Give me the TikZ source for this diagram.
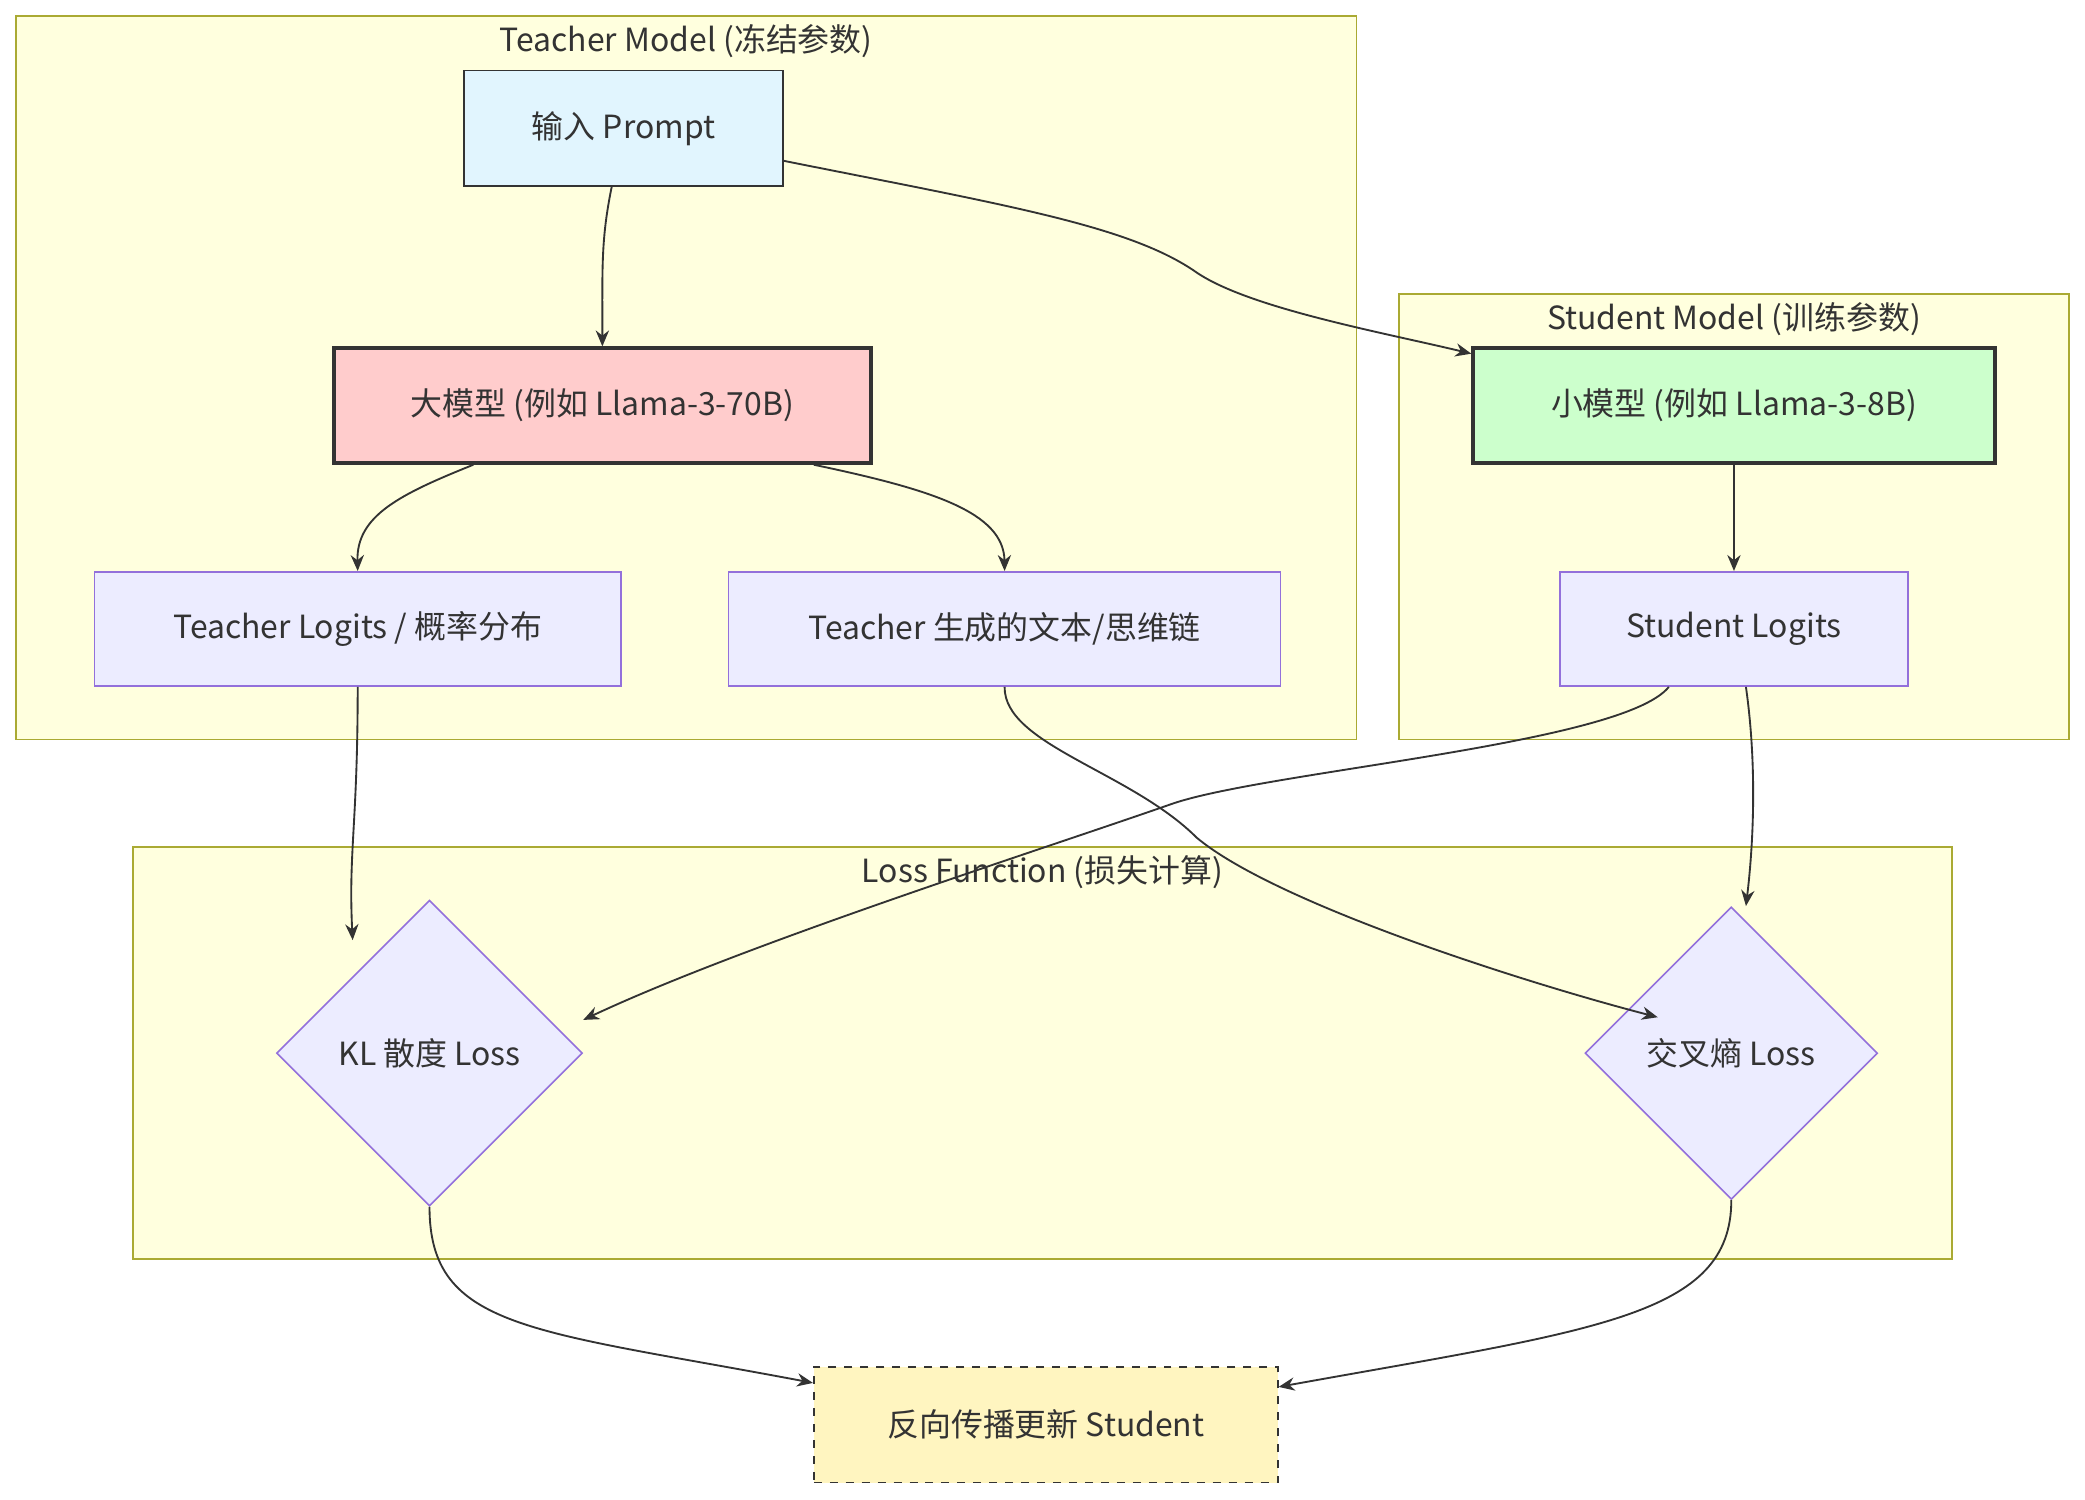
\documentclass[tikz,border=0pt]{standalone}
\usepackage{fontspec}
\setmainfont{Noto Sans CJK SC}
\usetikzlibrary{shapes.geometric,arrows.meta}
\definecolor{clusterfill}{HTML}{FFFFDE}
\definecolor{clusterline}{HTML}{AAAA33}
\definecolor{nodefill}{HTML}{ECECFF}
\definecolor{nodeline}{HTML}{9370DB}
\definecolor{edgecol}{HTML}{333333}
\tikzset{
  cluster/.style={draw=clusterline, fill=clusterfill, line width=0.6pt},
  clusterlabel/.style={font=\fontsize{12}{14}\selectfont, text=edgecol, anchor=center},
  box/.style={draw=nodeline, fill=nodefill, line width=0.6pt, font=\fontsize{12}{14}\selectfont,
    text=edgecol, inner sep=0pt},
  diam/.style={box, diamond, aspect=1, inner sep=0pt},
  flow/.style={draw=edgecol, line width=0.7pt, -{Stealth[length=6pt,width=5pt]}}
}
\begin{document}
\begin{tikzpicture}[x=0.5pt,y=-0.5pt]
  \useasboundingbox (0,0) rectangle (1568,1128);
  % subgraphs
  \draw[cluster] (12,12) rectangle (1020,556);
  \node[clusterlabel] (teachlbl) at (516,31) {Teacher Model (冻结参数)};
  \draw[cluster] (1052,221) rectangle (1556,556);
  \node[clusterlabel] (studlbl) at (1304,240) {Student Model (训练参数)};
  \draw[cluster] (100,637) rectangle (1468,947);
  \node[clusterlabel] (losslbl) at (784,656) {Loss Function (损失计算)};
  % nodes
  \node[box, draw=edgecol, fill={rgb,255:red,225;green,245;blue,254}, minimum width=120pt, minimum height=43.5pt]
    (prompt) at (469,96.5) {输入 Prompt};
  \node[box, draw=edgecol, line width=1.5pt, fill={rgb,255:red,255;green,204;blue,204}, minimum width=202pt, minimum height=43pt]
    (big) at (453,305) {大模型 (例如 Llama-3-70B)};
  \node[box, draw=edgecol, line width=1.5pt, fill={rgb,255:red,204;green,255;blue,204}, minimum width=196pt, minimum height=43pt]
    (small) at (1304,305) {小模型 (例如 Llama-3-8B)};
  \node[box, minimum width=198pt, minimum height=43pt] (tlogits) at (269,473) {Teacher Logits / 概率分布};
  \node[box, minimum width=207.5pt, minimum height=43pt] (ttext) at (755.5,473) {Teacher 生成的文本/思维链};
  \node[box, minimum width=131pt, minimum height=43pt] (slogits) at (1304,473) {Student Logits};
  \node[diam, minimum width=115pt, minimum height=115pt] (kl) at (323,792) {KL 散度 Loss};
  \node[diam, minimum width=110pt, minimum height=110pt] (ce) at (1302,792) {交叉熵 Loss};
  \node[box, draw=edgecol, dashed, fill={rgb,255:red,255;green,245;blue,192}, minimum width=174.5pt, minimum height=43.5pt]
    (backprop) at (786.5,1071.5) {反向传播更新 Student};
  % connectors
  \draw[flow] ([xshift=-4.5pt]prompt.south) .. controls (452,180) and (453,200) .. (big.north);
  \draw[flow] (prompt.east |- 0,121) .. controls (760,155) and (850,170) .. (900,205)
    .. controls (940,232) and (1040,250) .. (small.west |- 0,266);
  \draw[flow] ([xshift=-48.5pt]big.south) .. controls (300,372) and (268,388) .. (tlogits.north);
  \draw[flow] ([xshift=79.5pt]big.south) .. controls (700,368) and (755,385) .. (ttext.north);
  \draw[flow] (small.south) -- (slogits.north);
  \draw[flow] (tlogits.south) .. controls (269,620) and (262,640) .. (kl.north west |- 0,707) ;
  \draw[flow] (ttext.south) .. controls (755,560) and (850,580) .. (900,630)
    .. controls (960,680) and (1150,740) .. (ce.north west |- 0,765);
  \draw[flow] ([xshift=-24.5pt]slogits.south) .. controls (1220,560) and (950,580) .. (880,605)
    .. controls (780,640) and (560,710) .. (kl.east |- 0,767);
  \draw[flow] ([xshift=4.5pt]slogits.south) .. controls (1322,580) and (1318,640) .. (ce.north -| 1313,0);
  \draw[flow] (kl.south) .. controls (323,1000) and (400,1000) .. (backprop.west |- 0,1040);
  \draw[flow] (ce.south) .. controls (1302,990) and (1200,1000) .. (backprop.east |- 0,1043);
\end{tikzpicture}
\end{document}
